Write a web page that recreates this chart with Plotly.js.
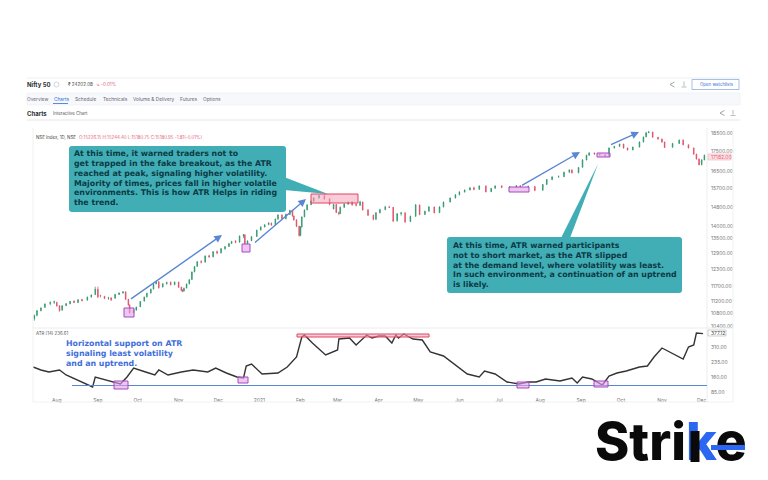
<!DOCTYPE html>
<html><head><meta charset="utf-8">
<script src="https://cdn.plot.ly/plotly-3.0.1.min.js"></script>
<style>html,body{margin:0;padding:0;background:#fff}#c{width:768px;height:480px}</style>
</head><body><div id="c"></div>
<script>
const candleDates=["2020-07-15","2020-07-17","2020-07-20","2020-07-23","2020-07-27","2020-07-30","2020-08-01","2020-08-03","2020-08-05","2020-08-08","2020-08-11","2020-08-14","2020-08-17","2020-08-20","2020-08-24","2020-08-27","2020-08-30","2020-09-01","2020-09-03","2020-09-06","2020-09-09","2020-09-11","2020-09-14","2020-09-17","2020-09-20","2020-09-22","2020-09-24","2020-09-25","2020-09-28","2020-09-30","2020-10-03","2020-10-06","2020-10-08","2020-10-11","2020-10-13","2020-10-15","2020-10-17","2020-10-20","2020-10-23","2020-10-26","2020-10-29","2020-11-01","2020-11-03","2020-11-04","2020-11-05","2020-11-07","2020-11-09","2020-11-11","2020-11-13","2020-11-15","2020-11-18","2020-11-21","2020-11-24","2020-11-27","2020-11-30","2020-12-03","2020-12-06","2020-12-09","2020-12-11","2020-12-14","2020-12-17","2020-12-20","2020-12-21","2020-12-23","2020-12-26","2020-12-30","2021-01-02","2021-01-05","2021-01-08","2021-01-10","2021-01-13","2021-01-15","2021-01-18","2021-01-21","2021-01-24","2021-01-26","2021-01-27","2021-01-29","2021-01-31","2021-02-01","2021-02-02","2021-02-04","2021-02-06","2021-02-09","2021-02-11","2021-02-15","2021-02-19","2021-02-23","2021-02-26","2021-02-28","2021-03-02","2021-03-03","2021-03-06","2021-03-09","2021-03-12","2021-03-15","2021-03-18","2021-03-20","2021-03-24","2021-03-28","2021-03-30","2021-04-02","2021-04-06","2021-04-09","2021-04-12","2021-04-15","2021-04-18","2021-04-21","2021-04-25","2021-04-29","2021-05-02","2021-05-06","2021-05-09","2021-05-13","2021-05-17","2021-05-20","2021-05-25","2021-05-29","2021-06-01","2021-06-05","2021-06-09","2021-06-12","2021-06-16","2021-06-21","2021-06-25","2021-06-28","2021-07-03","2021-07-09","2021-07-14","2021-07-17","2021-07-23","2021-07-28","2021-08-03","2021-08-06","2021-08-10","2021-08-15","2021-08-19","2021-08-23","2021-08-25","2021-08-30","2021-09-02","2021-09-05","2021-09-07","2021-09-11","2021-09-15","2021-09-19","2021-09-22","2021-09-26","2021-09-30","2021-10-03","2021-10-06","2021-10-10","2021-10-15","2021-10-18","2021-10-20","2021-10-22","2021-10-25","2021-10-29","2021-11-01","2021-11-03","2021-11-09","2021-11-14","2021-11-17","2021-11-21","2021-11-25","2021-11-27","2021-11-29","2021-12-01","2021-12-03"];
const opens=[10620,10730,10880,10990,11110,11160,11150,11040,10900,11050,11110,11200,11150,11250,11230,11340,11420,11600,11380,11360,11290,11300,11290,11420,11470,11510,11260,11060,10820,10900,11010,11200,11340,11470,11610,11790,11860,11680,11790,11840,11760,11850,11670,11560,11540,11640,11790,11940,12220,12420,12600,12580,12820,12780,12980,12930,13090,13180,13300,13390,13350,13600,13640,13300,13410,13580,13840,13970,14070,14130,14060,14300,14480,14320,14500,14680,14430,14270,14000,13620,13970,14400,14700,14930,15090,15240,15330,15190,14740,14940,14590,14540,14810,14950,15050,14950,14900,15050,14700,14470,14290,14570,14710,14830,14810,14230,14530,14570,14200,14420,14920,14500,14640,14830,14580,14830,15050,15230,15380,15510,15600,15700,15630,15790,15520,15680,15790,15720,15740,15800,15740,15760,15590,15860,16090,16220,16230,16450,16560,16420,16690,17060,17300,17420,17360,17320,17270,17680,17760,17890,17680,17580,17730,18000,18280,18500,18540,18250,18160,18000,17720,17920,18100,17850,17680,17360,17110,16830,17060];
const highs=[10750,10900,10990,11120,11190,11210,11180,11060,11060,11130,11200,11220,11260,11270,11350,11420,11690,11690,11410,11370,11340,11330,11440,11490,11530,11520,11270,11090,10920,11010,11200,11350,11480,11620,11790,11880,11880,11810,11860,11870,11870,11860,11690,11600,11660,11800,11950,12230,12430,12610,12650,12830,12860,13000,13020,13120,13190,13320,13400,13430,13620,13680,13660,13420,13600,13860,13990,14080,14170,14150,14320,14500,14500,14530,14700,14710,14450,14290,14020,14000,14420,14720,14950,15130,15260,15380,15420,15230,14960,14960,14620,14850,14990,15080,15090,14990,15110,15070,14730,14490,14600,14750,14880,14880,14830,14560,14600,14590,14450,14960,14930,14660,14860,14840,14860,15070,15250,15400,15540,15620,15740,15750,15810,15800,15690,15810,15820,15780,15830,15820,15810,15780,15880,16120,16250,16290,16470,16590,16580,16700,17100,17330,17460,17440,17380,17340,17700,17790,17910,17900,17700,17750,18030,18290,18560,18610,18560,18280,18180,18010,17950,18130,18140,17870,17700,17380,17130,17100,17340];
const lows=[10560,10700,10860,10970,11060,11100,11010,10850,10880,11030,11090,11130,11130,11190,11210,11310,11400,11300,11320,11260,11240,11200,11280,11400,11450,11230,11040,10790,10790,10880,11000,11180,11320,11450,11590,11770,11620,11660,11760,11730,11740,11640,11530,11500,11520,11630,11770,11930,12200,12400,12530,12560,12740,12760,12880,12910,13050,13160,13280,13310,13330,13510,13260,13270,13390,13560,13820,13950,14040,14020,14040,14270,14300,14290,14480,14400,14230,13960,13570,13590,13950,14380,14680,14910,15060,15200,15150,14900,14720,14560,14460,14520,14790,14930,14880,14850,14880,14670,14430,14250,14270,14550,14690,14780,14170,14200,14450,14130,14180,14400,14470,14480,14620,14550,14560,14810,15030,15210,15350,15480,15580,15590,15610,15490,15500,15660,15690,15660,15710,15700,15700,15540,15570,15840,16060,16180,16210,16420,16390,16400,16670,17040,17280,17330,17290,17240,17250,17660,17740,17650,17550,17560,17710,17980,18260,18490,18230,18130,17960,17680,17700,17900,17820,17660,17330,17080,16800,16780,17050];
const closes=[10730,10880,10970,11100,11150,11180,11040,10880,11040,11110,11190,11150,11240,11210,11330,11400,11600,11340,11370,11290,11310,11240,11420,11470,11510,11260,11070,10810,10900,11000,11180,11330,11460,11600,11770,11860,11650,11790,11840,11760,11850,11670,11560,11520,11630,11780,11935,12210,12410,12595,12570,12810,12770,12975,12920,13090,13170,13290,13380,13340,13590,13650,13290,13400,13570,13830,13970,14060,14140,14050,14300,14480,14320,14510,14680,14430,14270,14000,13620,13970,14390,14690,14920,15080,15230,15340,15190,14950,14940,14590,14540,14810,14950,15040,14920,14900,15050,14700,14470,14290,14570,14710,14830,14810,14220,14530,14570,14190,14420,14920,14490,14640,14830,14570,14830,15040,15230,15380,15510,15600,15695,15620,15790,15510,15670,15790,15720,15740,15800,15740,15760,15580,15850,16090,16220,16230,16450,16560,16415,16680,17060,17300,17420,17360,17315,17265,17680,17760,17890,17680,17575,17730,18000,18270,18490,18545,18260,18160,18000,17710,17920,18100,17850,17680,17360,17110,16810,17060,17300];

const atrDates=["2020-07-14","2020-07-20","2020-07-26","2020-08-03","2020-08-08","2020-08-13","2020-08-21","2020-08-28","2020-08-30","2020-09-05","2020-09-13","2020-09-18","2020-09-23","2020-09-28","2020-10-07","2020-10-14","2020-10-17","2020-10-24","2020-11-03","2020-11-12","2020-11-23","2020-11-29","2020-12-07","2020-12-15","2020-12-20","2020-12-22","2020-12-26","2021-01-03","2021-01-15","2021-01-22","2021-01-29","2021-02-02","2021-02-04","2021-02-10","2021-02-20","2021-03-01","2021-03-02","2021-03-10","2021-03-15","2021-03-23","2021-03-27","2021-04-01","2021-04-06","2021-04-11","2021-04-14","2021-04-16","2021-04-20","2021-04-27","2021-05-04","2021-05-10","2021-05-20","2021-05-29","2021-06-07","2021-06-16","2021-06-20","2021-06-28","2021-07-07","2021-07-16","2021-07-23","2021-07-29","2021-08-05","2021-08-16","2021-08-25","2021-08-29","2021-09-02","2021-09-09","2021-09-17","2021-09-22","2021-09-28","2021-10-05","2021-10-15","2021-10-21","2021-10-26","2021-11-01","2021-11-10","2021-11-17","2021-11-21","2021-11-25","2021-11-27","2021-12-02"];
const atrValues=[210,195,185,195,170,155,130,110,160,150,135,125,160,205,185,170,195,170,185,195,185,205,180,160,155,215,225,175,180,210,260,360,370,330,270,295,350,355,320,370,355,365,365,330,370,355,375,350,345,285,265,220,175,160,190,175,135,125,135,135,150,140,155,130,160,150,120,165,180,190,210,215,260,305,275,250,310,320,380,377];

const monthTickVals=["2020-08-01","2020-09-01","2020-10-01","2020-11-01","2020-12-01","2021-01-01","2021-02-01","2021-03-01","2021-04-01","2021-05-01","2021-06-01","2021-07-01","2021-08-01","2021-09-01","2021-10-01","2021-11-01","2021-12-01"];
const monthTickText=["Aug","Sep","Oct","Nov","Dec","2021","Feb","Mar","Apr","May","Jun","Jul","Aug","Sep","Oct","Nov","Dec"];
const priceTickVals=[18500,17500,16500,15700,14800,14000,13500,12900,12300,11700,11200,10800,10400];
const priceTickText=["18500.00","17500.00","16500.00","15700.00","14800.00","14000.00","13500.00","12900.00","12300.00","11700.00","11200.00","10800.00","10400.00"];
const atrTickVals=[310,235,160,85];
const atrTickText=["310.00","235.00","160.00","85.00"];

const callout1Lines=["At this time, it warned traders not to","get trapped in the fake breakout, as the ATR","reached at peak, signaling higher volatility.","Majority of times, prices fall in higher volatile","environments. This is how ATR Helps in riding","the trend."];
const callout2Lines=["At this time, ATR warned participants","not to short market, as the ATR slipped","at the demand level, where volatility was least.","In such environment, a continuation of an uptrend","is likely."];
const atrNoteLines=["Horizontal support on ATR","signaling least volatility","and an uptrend."];
const tabLabels=["Overview","Charts","Schedule","Technicals","Volume & Delivery","Futures","Options"];
const tabX=[26,53,74,102,132,179,202];

const X=v=>v/768, Y=v=>1-v/480;
const TEAL="#41aeb6", PURPLE="#a44bc0", PFILL="rgba(226,160,232,0.6)", RED="#e2445f", RFILL="rgba(246,160,185,0.55)", BLUE="#5a86d6";
const FONT="Inter, Roboto, sans-serif", CALL="DejaVu Sans";
function rrect(x0,y0,x1,y1,r,fill){
  const p=`M${X(x0+r)},${Y(y0)} L${X(x1-r)},${Y(y0)} Q${X(x1)},${Y(y0)} ${X(x1)},${Y(y0+r)} L${X(x1)},${Y(y1-r)} Q${X(x1)},${Y(y1)} ${X(x1-r)},${Y(y1)} L${X(x0+r)},${Y(y1)} Q${X(x0)},${Y(y1)} ${X(x0)},${Y(y1-r)} L${X(x0)},${Y(y0+r)} Q${X(x0)},${Y(y0)} ${X(x0+r)},${Y(y0)} Z`;
  return {type:"path",xref:"paper",yref:"paper",path:p,fillcolor:fill,line:{width:0}};
}
function poly(pts,fill){
  return {type:"path",xref:"paper",yref:"paper",path:"M"+pts.map(p=>X(p[0])+","+Y(p[1])).join(" L")+" Z",fillcolor:fill,line:{width:0}};
}
function open_(pts,c,w){
  return {type:"path",xref:"paper",yref:"paper",path:"M"+pts.map(p=>X(p[0])+","+Y(p[1])).join(" L"),fillcolor:"rgba(0,0,0,0)",line:{color:c,width:w}};
}
function box(x0,y0,x1,y1,fill,stroke,w){
  return {type:"rect",xref:"paper",yref:"paper",x0:X(x0),x1:X(x1),y0:Y(y0),y1:Y(y1),fillcolor:fill,line:{color:stroke,width:w===undefined?1:w}};
}
function line(x0,y0,x1,y1,c,w){
  return {type:"line",xref:"paper",yref:"paper",x0:X(x0),x1:X(x1),y0:Y(y0),y1:Y(y1),line:{color:c,width:w||1}};
}
function txt(x,y,t,size,color,opt){
  return Object.assign({xref:"paper",yref:"paper",x:X(x),y:Y(y),text:t,showarrow:false,xanchor:"left",yanchor:"middle",borderpad:0,font:{family:FONT,size:size,color:color}},opt||{});
}
function arrow(x0,y0,x1,y1,c,w,head){
  return {xref:"paper",yref:"paper",x:X(x1),y:Y(y1),ax:x0-x1,ay:y0-y1,axref:"pixel",ayref:"pixel",text:" ",showarrow:true,arrowhead:head===undefined?2:head,arrowsize:head===0?1:1.1,arrowwidth:w,arrowcolor:c,standoff:0,startstandoff:0};
}
function shareIcon(x,y){ return open_([[x+2.5,y-2.5],[x-2,y],[x+2.5,y+2.5]],"#8a8f96",0.8); }
function dlIcon(x,y){ return open_([[x,y-3],[x,y+1.5]],"#9aa0a6",0.7); }

const shapes=[
  line(27,78,740,78,"#eceef1"),
  box(27,93,740,105,"#f7f8fb","#eceef1",0.6),
  line(27,120,740,120,"#e4e6ea"),
  line(33,128,33,402,"#f0f1f3"),
  line(707,128,707,402,"#eceef1"),
  line(733,128,733,402,"#f0f1f3"),
  line(33,328,733,328,"#e9ebee"),
  line(33,402,733,402,"#f0f1f3"),
  box(692,79.5,739,89.5,"#ffffff","#7fa3e0",0.7),
  line(53,103.5,68,103.5,"#2f6fd8",0.8),
  shareIcon(672,84.5), dlIcon(684,84.5), line(681.5,87,686.5,87,"#9aa0a6",0.7),
  shareIcon(722,113), dlIcon(733,113), line(730.5,115.5,735.5,115.5,"#9aa0a6",0.7),
  {type:"circle",xref:"paper",yref:"paper",x0:X(54),x1:X(59),y0:Y(82),y1:Y(87),line:{color:"#b5b9bf",width:0.6},fillcolor:"rgba(0,0,0,0)"},
  // callouts
  poly([[284,177],[328,194],[284,190]],TEAL),
  rrect(69,146,286,212,3,TEAL),
  poly([[561,238],[598,164],[570,238]],TEAL),
  rrect(447,237,682,293,3,TEAL),
  // price zones
  box(124,308,134,317,PFILL,PURPLE),
  box(242,244,250,252,PFILL,PURPLE),
  box(311,194,358,203,RFILL,RED),
  box(509,187,529,192,PFILL,PURPLE),
  box(597,153,610,157,PFILL,PURPLE),
  // ATR zones
  line(72,385.5,707,385.5,BLUE,1.2),
  box(114,381,128,389,PFILL,PURPLE),
  box(238,377,248,383,PFILL,PURPLE),
  box(297,334,429,337,RFILL,RED),
  box(517,382,529,388,PFILL,PURPLE),
  box(594,381,608,387,PFILL,PURPLE),
  // price tags
  box(708,154,731,160,"#fde3e7","#f0a0ae",0.5),
  box(708,330,726,336,"#ffffff","#9aa0a6",0.5)
];

const CF=7.85;
const annotations=[];
callout1Lines.forEach((t,i)=>annotations.push(txt(73,[153,163.6,173.6,183,192.8,202][i],t,CF,"#0b3a44",{font:{family:CALL,size:CF,color:"#0b3a44",weight:700}})));
callout2Lines.forEach((t,i)=>annotations.push(txt(452,[246,255.4,265,274.4,284][i],t,CF,"#0b3a44",{font:{family:CALL,size:CF,color:"#0b3a44",weight:700}})));
atrNoteLines.forEach((t,i)=>annotations.push(txt(65,[343,353,363][i],t,CF,"#3f6fdc",{font:{family:CALL,size:CF,color:"#3f6fdc",weight:700}})));
annotations.push(
  txt(26,84.5,"Nifty 50",6,"#2b2f36",{font:{family:FONT,size:6,color:"#2b2f36",weight:700}}),
  txt(67,84.5,"₹ 24202.08",4.6,"#444"),
  txt(95,84.5,"↘ -0.01%",4.6,"#e4607a"),
  txt(699,84.5,"Open watchlists",4.4,"#3a6fd8"),
  txt(26,113.5,"Charts",6,"#2b2f36",{font:{family:FONT,size:6,color:"#2b2f36",weight:700}}),
  txt(52,113.5,"Interactive Chart",4.4,"#555"),
  txt(35,137,"NSE Index, 1D, NSE",4.4,"#444"),
  txt(78,137,"O:15226.15 H:15244.40 L:15180.75 C:15180.95 -1.81(-0.01%)",4.4,"#e4607a"),
  txt(35,333,"ATR (14) 236.61",4.4,"#555"),
  txt(710,157,"17182.00",5,"#e4607a"),
  txt(710,333,"377.12",5,"#444")
);
tabLabels.forEach((t,i)=>annotations.push(txt(tabX[i],98.5,t,4.8,i===1?"#2f6fd8":"#667"))); 
annotations.push(
  arrow(128,301,222,235,BLUE,1.4),
  arrow(252,245,306,199,BLUE,1.4),
  arrow(519,187,580,152,BLUE,1.4),
  arrow(608,146,639,132,BLUE,1.4)
);
// logo
annotations.push(
  txt(594,441,"Stri<span style=\"color:#2b67f0\">k</span>e",52,"#0a0a0a",{font:{family:"Inter",size:52,color:"#0a0a0a",weight:800}}),
  arrow(695,421,695,462,"#0a0a0a",9,0),
  arrow(708,447.5,745,447.5,"#2b67f0",5,0)
);

const candles={type:"candlestick",x:candleDates,open:opens,high:highs,low:lows,close:closes,xaxis:"x",yaxis:"y",
  increasing:{line:{color:"#2a9468",width:0.7},fillcolor:"#2a9468"},
  decreasing:{line:{color:"#dc4a63",width:0.7},fillcolor:"#dc4a63"},hoverinfo:"skip"};
const atr={type:"scatter",mode:"lines",x:atrDates,y:atrValues,xaxis:"x",yaxis:"y2",line:{color:"#333333",width:1.4},hoverinfo:"skip"};

const tickFont={family:FONT,size:5,color:"#777"};
const layout={
  width:768,height:480,margin:{l:0,r:0,t:0,b:0},paper_bgcolor:"#fff",plot_bgcolor:"#fff",showlegend:false,
  xaxis:{type:"date",domain:[X(33),X(707)],anchor:"y2",range:["2020-07-14","2021-12-05"],tickmode:"array",tickvals:monthTickVals,ticktext:monthTickText,tickfont:tickFont,ticks:"",showgrid:false,zeroline:false,rangeslider:{visible:false},showline:false,ticklabelstandoff:3},
  yaxis:{type:"log",domain:[Y(328),Y(128)],range:[Math.log10(10333),Math.log10(18767)],side:"right",anchor:"x",tickmode:"array",tickvals:priceTickVals,ticktext:priceTickText,tickfont:tickFont,ticks:"",showgrid:false,zeroline:false,ticklabelstandoff:3},
  yaxis2:{type:"linear",domain:[Y(393),Y(328)],range:[80,405],side:"right",anchor:"x",tickmode:"array",tickvals:atrTickVals,ticktext:atrTickText,tickfont:tickFont,ticks:"",showgrid:false,zeroline:false,ticklabelstandoff:3},
  shapes,annotations
};
Plotly.newPlot("c",[candles,atr],layout,{staticPlot:true,displayModeBar:false});
</script></body></html>
